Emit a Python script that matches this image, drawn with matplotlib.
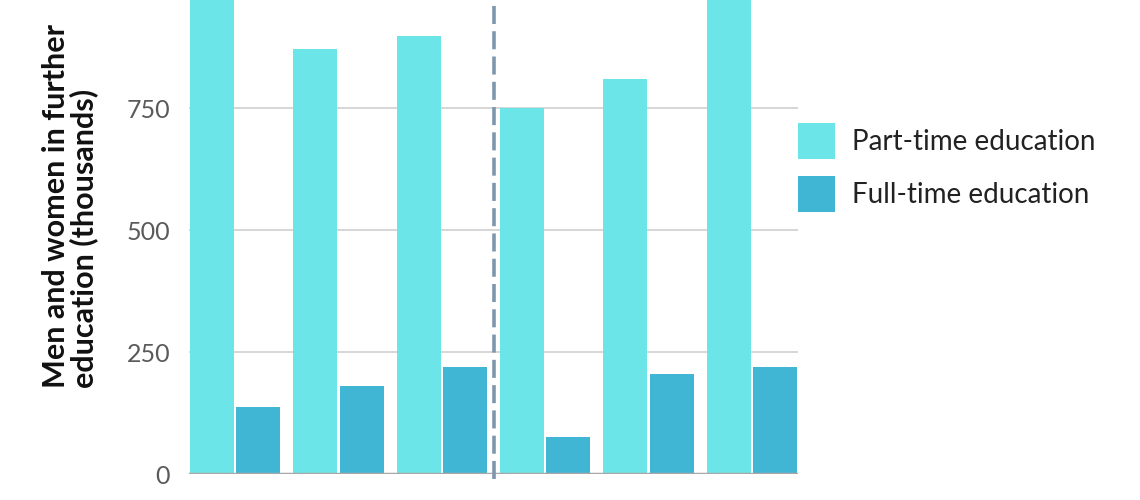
import numpy as np
import matplotlib
matplotlib.use("Agg")
import matplotlib.pyplot as plt

# men 1970/71, 1980/81, 1990/91 then women 1970/71, 1980/81, 1990/91
periods = ["1970/71", "1980/81", "1990/91", "1970/71", "1980/81", "1990/91"]
part_time = [1000, 870, 898, 750, 810, 1100]
full_time = [138, 180, 220, 75, 204, 220]

series_labels = ["Part-time education", "Full-time education"]
colors = ["#6ce5e8", "#41b6d4"]
y_ticks = [0, 250, 500, 750]

plt.rcParams["font.family"] = ["Lato", "DejaVu Sans"]

fig = plt.figure(figsize=(11.4, 5), dpi=100)
ax = fig.add_axes([189 / 1140, 26 / 500, 609 / 1140, 488 / 500])

x = np.arange(len(periods))
w = 0.425
ax.bar(x - 0.225, part_time, w, color=colors[0], label=series_labels[0], zorder=2)
ax.bar(x + 0.225, full_time, w, color=colors[1], label=series_labels[1], zorder=2)

ax.set_xlim(-0.445, len(periods) - 0.555)
ax.set_ylim(0, 1000)
ax.set_yticks(y_ticks)
ax.yaxis.grid(True, color="#cfcfcf", linewidth=1.2, zorder=0)
ax.set_axisbelow(True)
ax.axhline(0, color="#a8a8a8", linewidth=2.5, zorder=3)

# separator between men and women
ax.axvline(2.5, ymin=-0.01, ymax=1, color="#7f97ad", linewidth=2.6,
           dashes=(5, 2), zorder=4, clip_on=False)

for s in ["top", "right", "left"]:
    ax.spines[s].set_visible(False)
ax.spines["bottom"].set_position(("outward", 24))
ax.spines["bottom"].set_visible(False)

# period labels fall below the visible area, only the tick marks show
ax.set_xticks(x)
ax.set_xticklabels([])
ax.tick_params(axis="x", length=6, color="#b0b0b0")
ax.tick_params(axis="y", length=0, pad=13.5, labelsize=18, labelcolor="#5a5a5a")

fig.text(0.0614, 1 - 388 / 500, "Men and women in further\neducation (thousands)",
         rotation=90, ha="center", va="bottom", multialignment="left",
         fontsize=22, fontweight="bold", color="#111111", linespacing=1.0)

ax.legend(loc="upper left", bbox_to_anchor=(798 / 1140, 1 - 123 / 500),
          bbox_transform=fig.transFigure, frameon=False, fontsize=20,
          handlelength=1.33, handleheight=1.62, handletextpad=0.6,
          labelspacing=0.62, borderpad=0, borderaxespad=0, labelcolor="#222222")

fig.savefig("out.png", dpi=100, facecolor="white")
